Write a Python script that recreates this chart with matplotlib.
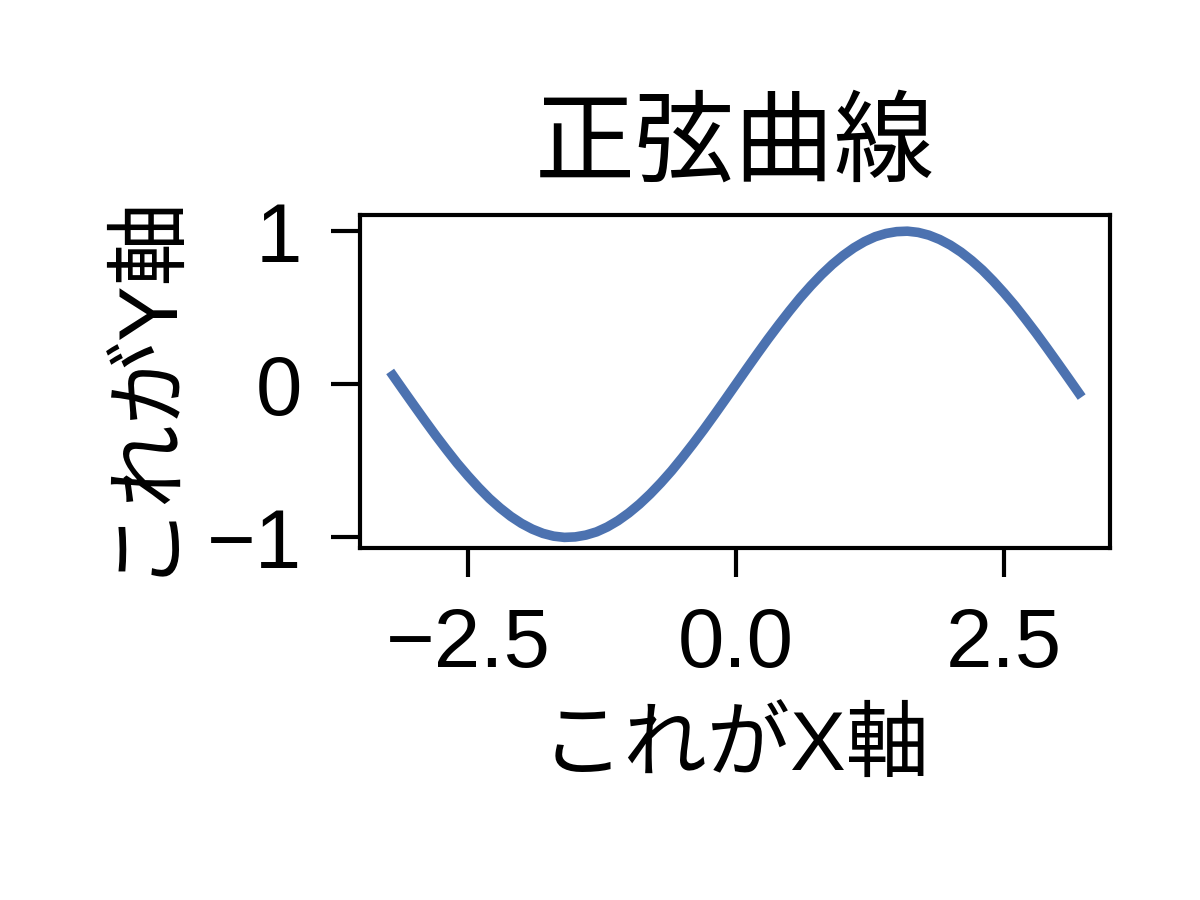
import matplotlib
matplotlib.use("Agg")
import matplotlib.pyplot as plt

plt.rcParams['font.family'] = ['Liberation Sans', 'Noto Sans CJK JP', 'DejaVu Sans']

# 読み取った正弦曲線の点
xs = [-3.2, -3.1, -3.0, -2.9, -2.8, -2.7, -2.6, -2.5, -2.4, -2.3, -2.2, -2.1,
      -2.0, -1.9, -1.8, -1.7, -1.6, -1.5, -1.4, -1.3, -1.2, -1.1, -1.0, -0.9,
      -0.8, -0.7, -0.6, -0.5, -0.4, -0.3, -0.2, -0.1, 0.0, 0.1, 0.2, 0.3,
      0.4, 0.5, 0.6, 0.7, 0.8, 0.9, 1.0, 1.1, 1.2, 1.3, 1.4, 1.5, 1.6, 1.7,
      1.8, 1.9, 2.0, 2.1, 2.2, 2.3, 2.4, 2.5, 2.6, 2.7, 2.8, 2.9, 3.0, 3.1, 3.2]
ys = [0.058, -0.042, -0.141, -0.239, -0.335, -0.427, -0.516, -0.598, -0.675,
      -0.746, -0.808, -0.863, -0.909, -0.946, -0.974, -0.992, -1.0, -0.997,
      -0.985, -0.964, -0.932, -0.891, -0.841, -0.783, -0.717, -0.644, -0.565,
      -0.479, -0.389, -0.296, -0.199, -0.100, 0.0, 0.100, 0.199, 0.296,
      0.389, 0.479, 0.565, 0.644, 0.717, 0.783, 0.841, 0.891, 0.932, 0.964,
      0.985, 0.997, 1.0, 0.992, 0.974, 0.946, 0.909, 0.863, 0.808, 0.746,
      0.675, 0.598, 0.516, 0.427, 0.335, 0.239, 0.141, 0.042, -0.058]
xticks = [-2.5, 0.0, 2.5]
yticks = [-1, 0, 1]

fig = plt.figure(figsize=(4, 3), dpi=300)
ax = fig.add_axes([0.3, 0.391, 0.625, 0.37])
ax.plot(xs, ys, color='#4C72B0', lw=2.3)
ax.set_xlim(-3.507, 3.49)
ax.set_ylim(-1.07, 1.105)
ax.set_xticks(xticks)
ax.set_yticks(yticks)
ax.tick_params(labelsize=20, length=7, width=1, direction='out', pad=7)
for s in ax.spines.values():
    s.set_linewidth(1)
ax.set_title('正弦曲線', fontsize=24, pad=10)
ax.set_xlabel('これがX軸', fontsize=20, labelpad=6)
ax.set_ylabel('これがY軸', fontsize=20, labelpad=6)

fig.savefig('out.png', dpi=300)
